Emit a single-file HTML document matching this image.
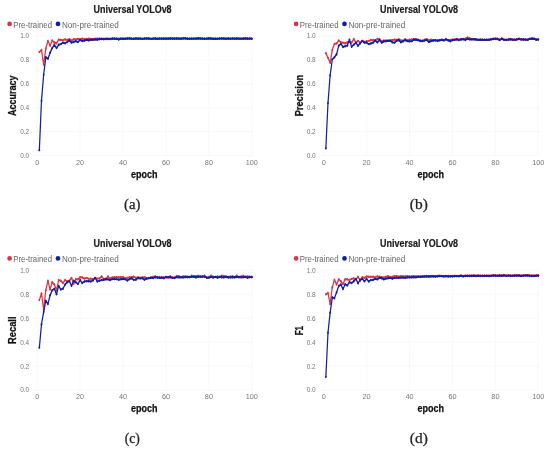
<!DOCTYPE html>
<html><head><meta charset="utf-8"><title>Universal YOLOv8</title>
<style>
html,body{margin:0;padding:0;background:#fff;}
svg{display:block;font-family:"Liberation Sans",sans-serif;}
.t{font-weight:bold;font-size:10.4px;fill:#1a1a1a;stroke:#1a1a1a;stroke-width:0.2;}
.ax{font-weight:bold;font-size:10.3px;fill:#111;stroke:#111;stroke-width:0.25;}
.lg{font-size:8.2px;fill:#666;}
.tk{font-size:6.5px;fill:#777;}
.tx{font-size:7.3px;fill:#777;}
.gh{stroke:#f6f6f6;stroke-width:0.7;}
.cap{font-family:"Liberation Serif",serif;font-size:14.5px;fill:#1c1c1c;stroke:#1c1c1c;stroke-width:0.25;}
.gr{stroke:#e9e9e9;stroke-width:0.7;stroke-dasharray:1 1.5;}
.ln{fill:none;stroke-width:1.75;stroke-linejoin:round;stroke-linecap:round;}
</style></head><body>
<svg width="550" height="451" viewBox="0 0 550 451">
<rect width="550" height="451" fill="#fff"/>

<g transform="translate(0,0)">
<text class="t" x="132.6" y="12.5" text-anchor="middle" textLength="78" lengthAdjust="spacingAndGlyphs">Universal YOLOv8</text>
<g transform="translate(0,0)">
<circle cx="9.6" cy="23.9" r="2.35" fill="#DA3448"/><text class="lg" x="13.3" y="27.6" textLength="38.7" lengthAdjust="spacingAndGlyphs">Pre-trained</text>
<circle cx="58.0" cy="23.9" r="2.35" fill="#0F1FA4"/><text class="lg" x="62.0" y="27.6" textLength="56.7" lengthAdjust="spacingAndGlyphs">Non-pre-trained</text>
<line class="gr" x1="37.2" y1="35" x2="37.2" y2="156"/>
<text class="tx" x="37.2" y="164.5" text-anchor="middle">0</text>
<line class="gr" x1="80.1" y1="35" x2="80.1" y2="156"/>
<text class="tx" x="80.1" y="164.5" text-anchor="middle">20</text>
<line class="gr" x1="123.0" y1="35" x2="123.0" y2="156"/>
<text class="tx" x="123.0" y="164.5" text-anchor="middle">40</text>
<line class="gr" x1="166.0" y1="35" x2="166.0" y2="156"/>
<text class="tx" x="166.0" y="164.5" text-anchor="middle">60</text>
<line class="gr" x1="208.9" y1="35" x2="208.9" y2="156"/>
<text class="tx" x="208.9" y="164.5" text-anchor="middle">80</text>
<line class="gr" x1="251.8" y1="35" x2="251.8" y2="156"/>
<text class="tx" x="251.8" y="164.5" text-anchor="middle">100</text>
<line class="gh" x1="32" y1="155.5" x2="253" y2="155.5"/>
<text class="tk" x="29.2" y="157.8" text-anchor="end">0.0</text>
<line class="gh" x1="32" y1="131.6" x2="253" y2="131.6"/>
<text class="tk" x="29.2" y="134.0" text-anchor="end">0.2</text>
<line class="gh" x1="32" y1="107.7" x2="253" y2="107.7"/>
<text class="tk" x="29.2" y="110.1" text-anchor="end">0.4</text>
<line class="gh" x1="32" y1="83.9" x2="253" y2="83.9"/>
<text class="tk" x="29.2" y="86.2" text-anchor="end">0.6</text>
<line class="gh" x1="32" y1="60.0" x2="253" y2="60.0"/>
<text class="tk" x="29.2" y="62.3" text-anchor="end">0.8</text>
<line class="gh" x1="32" y1="36.1" x2="253" y2="36.1"/>
<text class="tk" x="29.2" y="38.4" text-anchor="end">1.0</text>
</g>
<text class="ax" transform="translate(16.4,95.8) rotate(-90)" text-anchor="middle" textLength="40.4" lengthAdjust="spacingAndGlyphs">Accuracy</text>
<text class="ax" x="144.2" y="177.8" text-anchor="middle" textLength="26.5" lengthAdjust="spacingAndGlyphs">epoch</text>
<text class="cap" x="132.3" y="208.7" text-anchor="middle" textLength="16.4" lengthAdjust="spacingAndGlyphs">(a)</text>
<g transform="translate(0,0)">
<g transform="scale(0.7,1)">
<polyline class="ln" stroke="#DA3448" points="56.21,52.10 59.27,49.95 62.34,64.64 65.41,48.52 68.47,40.88 71.54,45.65 74.60,40.52 77.67,42.43 80.73,43.38 83.80,39.68 86.87,39.92 89.93,40.28 93.00,39.44 96.06,39.92 99.13,39.08 102.19,40.64 105.26,39.20 108.33,39.44 111.39,38.97 114.46,39.20 117.52,38.73 120.59,39.08 123.65,39.05 126.72,38.67 129.79,38.89 132.85,38.98 135.92,38.75 138.98,38.61 142.05,38.66 145.11,38.58 148.18,38.78 151.25,38.59 154.31,38.70 157.38,38.83 160.44,38.56 163.51,38.69 166.57,38.71 169.64,38.69 172.71,38.58 175.77,38.57 178.84,38.61 181.90,38.45 184.97,38.46 188.03,38.66 191.10,38.65 194.17,38.48 197.23,38.61 200.30,38.47 203.36,38.79 206.43,38.44 209.49,38.47 212.56,38.41 215.63,38.76 218.69,38.58 221.76,38.47 224.82,38.72 227.89,38.52 230.95,38.61 234.02,38.47 237.09,38.52 240.15,38.56 243.22,38.50 246.28,38.49 249.35,38.45 252.41,38.51 255.48,38.54 258.55,38.59 261.61,38.37 264.68,38.30 267.74,38.65 270.81,38.60 273.87,38.59 276.94,38.58 280.01,38.53 283.07,38.31 286.14,38.42 289.20,38.52 292.27,38.64 295.33,38.63 298.40,38.45 301.47,38.48 304.53,38.73 307.60,38.68 310.66,38.70 313.73,38.50 316.79,38.37 319.86,38.44 322.93,38.73 325.99,38.42 329.06,38.58 332.12,38.39 335.19,38.61 338.25,38.47 341.32,38.62 344.39,38.75 347.45,38.51 350.52,38.34 353.58,38.55 356.65,38.56 359.71,38.63"/>
<g fill="#DA3448"><circle cx="56.21" cy="52.10" r="1.2"/><circle cx="59.27" cy="49.95" r="1.2"/><circle cx="62.34" cy="64.64" r="1.2"/><circle cx="65.41" cy="48.52" r="1.2"/><circle cx="68.47" cy="40.88" r="1.2"/><circle cx="71.54" cy="45.65" r="1.2"/><circle cx="74.60" cy="40.52" r="1.2"/><circle cx="77.67" cy="42.43" r="1.2"/><circle cx="80.73" cy="43.38" r="1.2"/><circle cx="83.80" cy="39.68" r="1.2"/><circle cx="86.87" cy="39.92" r="1.2"/><circle cx="89.93" cy="40.28" r="1.2"/><circle cx="93.00" cy="39.44" r="1.2"/><circle cx="96.06" cy="39.92" r="1.2"/><circle cx="99.13" cy="39.08" r="1.2"/><circle cx="102.19" cy="40.64" r="1.2"/><circle cx="105.26" cy="39.20" r="1.2"/><circle cx="108.33" cy="39.44" r="1.2"/><circle cx="111.39" cy="38.97" r="1.2"/><circle cx="114.46" cy="39.20" r="1.2"/><circle cx="117.52" cy="38.73" r="1.2"/><circle cx="120.59" cy="39.08" r="1.2"/><circle cx="123.65" cy="39.05" r="1.2"/><circle cx="126.72" cy="38.67" r="1.2"/><circle cx="129.79" cy="38.89" r="1.2"/><circle cx="132.85" cy="38.98" r="1.2"/><circle cx="135.92" cy="38.75" r="1.2"/><circle cx="138.98" cy="38.61" r="1.2"/><circle cx="142.05" cy="38.66" r="1.2"/><circle cx="145.11" cy="38.58" r="1.2"/><circle cx="148.18" cy="38.78" r="1.2"/><circle cx="151.25" cy="38.59" r="1.2"/><circle cx="154.31" cy="38.70" r="1.2"/><circle cx="157.38" cy="38.83" r="1.2"/><circle cx="160.44" cy="38.56" r="1.2"/><circle cx="163.51" cy="38.69" r="1.2"/><circle cx="166.57" cy="38.71" r="1.2"/><circle cx="169.64" cy="38.69" r="1.2"/><circle cx="172.71" cy="38.58" r="1.2"/><circle cx="175.77" cy="38.57" r="1.2"/><circle cx="178.84" cy="38.61" r="1.2"/><circle cx="181.90" cy="38.45" r="1.2"/><circle cx="184.97" cy="38.46" r="1.2"/><circle cx="188.03" cy="38.66" r="1.2"/><circle cx="191.10" cy="38.65" r="1.2"/><circle cx="194.17" cy="38.48" r="1.2"/><circle cx="197.23" cy="38.61" r="1.2"/><circle cx="200.30" cy="38.47" r="1.2"/><circle cx="203.36" cy="38.79" r="1.2"/><circle cx="206.43" cy="38.44" r="1.2"/><circle cx="209.49" cy="38.47" r="1.2"/><circle cx="212.56" cy="38.41" r="1.2"/><circle cx="215.63" cy="38.76" r="1.2"/><circle cx="218.69" cy="38.58" r="1.2"/><circle cx="221.76" cy="38.47" r="1.2"/><circle cx="224.82" cy="38.72" r="1.2"/><circle cx="227.89" cy="38.52" r="1.2"/><circle cx="230.95" cy="38.61" r="1.2"/><circle cx="234.02" cy="38.47" r="1.2"/><circle cx="237.09" cy="38.52" r="1.2"/><circle cx="240.15" cy="38.56" r="1.2"/><circle cx="243.22" cy="38.50" r="1.2"/><circle cx="246.28" cy="38.49" r="1.2"/><circle cx="249.35" cy="38.45" r="1.2"/><circle cx="252.41" cy="38.51" r="1.2"/><circle cx="255.48" cy="38.54" r="1.2"/><circle cx="258.55" cy="38.59" r="1.2"/><circle cx="261.61" cy="38.37" r="1.2"/><circle cx="264.68" cy="38.30" r="1.2"/><circle cx="267.74" cy="38.65" r="1.2"/><circle cx="270.81" cy="38.60" r="1.2"/><circle cx="273.87" cy="38.59" r="1.2"/><circle cx="276.94" cy="38.58" r="1.2"/><circle cx="280.01" cy="38.53" r="1.2"/><circle cx="283.07" cy="38.31" r="1.2"/><circle cx="286.14" cy="38.42" r="1.2"/><circle cx="289.20" cy="38.52" r="1.2"/><circle cx="292.27" cy="38.64" r="1.2"/><circle cx="295.33" cy="38.63" r="1.2"/><circle cx="298.40" cy="38.45" r="1.2"/><circle cx="301.47" cy="38.48" r="1.2"/><circle cx="304.53" cy="38.73" r="1.2"/><circle cx="307.60" cy="38.68" r="1.2"/><circle cx="310.66" cy="38.70" r="1.2"/><circle cx="313.73" cy="38.50" r="1.2"/><circle cx="316.79" cy="38.37" r="1.2"/><circle cx="319.86" cy="38.44" r="1.2"/><circle cx="322.93" cy="38.73" r="1.2"/><circle cx="325.99" cy="38.42" r="1.2"/><circle cx="329.06" cy="38.58" r="1.2"/><circle cx="332.12" cy="38.39" r="1.2"/><circle cx="335.19" cy="38.61" r="1.2"/><circle cx="338.25" cy="38.47" r="1.2"/><circle cx="341.32" cy="38.62" r="1.2"/><circle cx="344.39" cy="38.75" r="1.2"/><circle cx="347.45" cy="38.51" r="1.2"/><circle cx="350.52" cy="38.34" r="1.2"/><circle cx="353.58" cy="38.55" r="1.2"/><circle cx="356.65" cy="38.56" r="1.2"/><circle cx="359.71" cy="38.63" r="1.2"/></g>
<polyline class="ln" stroke="#0F1FA4" points="56.21,150.13 59.27,100.58 62.34,74.79 65.41,57.23 68.47,58.79 71.54,52.82 74.60,48.04 77.67,44.82 80.73,48.04 83.80,44.82 86.87,44.10 89.93,42.67 93.00,43.26 96.06,41.95 99.13,40.52 102.19,42.67 105.26,41.95 108.33,41.11 111.39,42.07 114.46,39.92 117.52,41.11 120.59,40.52 123.65,39.92 126.72,40.40 129.79,39.68 132.85,39.92 135.92,39.44 138.98,39.68 142.05,39.23 145.11,39.09 148.18,39.24 151.25,38.95 154.31,39.00 157.38,38.99 160.44,38.71 163.51,38.70 166.57,38.76 169.64,39.52 172.71,38.62 175.77,38.82 178.84,38.81 181.90,38.51 184.97,38.46 188.03,38.71 191.10,38.77 194.17,38.57 197.23,38.69 200.30,38.62 203.36,38.91 206.43,38.59 209.49,38.59 212.56,38.56 215.63,38.85 218.69,38.59 221.76,38.54 224.82,38.82 227.89,38.65 230.95,38.73 234.02,38.67 237.09,38.71 240.15,38.70 243.22,38.48 246.28,38.66 249.35,38.68 252.41,38.50 255.48,38.58 258.55,38.71 261.61,38.46 264.68,38.45 267.74,38.71 270.81,38.80 273.87,38.66 276.94,38.59 280.01,38.72 283.07,38.45 286.14,38.56 289.20,38.65 292.27,38.77 295.33,38.67 298.40,38.46 301.47,38.65 304.53,38.78 307.60,38.77 310.66,38.77 313.73,38.59 316.79,38.52 319.86,38.53 322.93,38.76 325.99,38.50 329.06,38.75 332.12,38.56 335.19,38.74 338.25,38.55 341.32,38.71 344.39,38.72 347.45,38.70 350.52,38.47 353.58,38.72 356.65,38.58 359.71,38.66"/>
<g fill="#0F1FA4"><circle cx="56.21" cy="150.13" r="1.2"/><circle cx="59.27" cy="100.58" r="1.2"/><circle cx="62.34" cy="74.79" r="1.2"/><circle cx="65.41" cy="57.23" r="1.2"/><circle cx="68.47" cy="58.79" r="1.2"/><circle cx="71.54" cy="52.82" r="1.2"/><circle cx="74.60" cy="48.04" r="1.2"/><circle cx="77.67" cy="44.82" r="1.2"/><circle cx="80.73" cy="48.04" r="1.2"/><circle cx="83.80" cy="44.82" r="1.2"/><circle cx="86.87" cy="44.10" r="1.2"/><circle cx="89.93" cy="42.67" r="1.2"/><circle cx="93.00" cy="43.26" r="1.2"/><circle cx="96.06" cy="41.95" r="1.2"/><circle cx="99.13" cy="40.52" r="1.2"/><circle cx="102.19" cy="42.67" r="1.2"/><circle cx="105.26" cy="41.95" r="1.2"/><circle cx="108.33" cy="41.11" r="1.2"/><circle cx="111.39" cy="42.07" r="1.2"/><circle cx="114.46" cy="39.92" r="1.2"/><circle cx="117.52" cy="41.11" r="1.2"/><circle cx="120.59" cy="40.52" r="1.2"/><circle cx="123.65" cy="39.92" r="1.2"/><circle cx="126.72" cy="40.40" r="1.2"/><circle cx="129.79" cy="39.68" r="1.2"/><circle cx="132.85" cy="39.92" r="1.2"/><circle cx="135.92" cy="39.44" r="1.2"/><circle cx="138.98" cy="39.68" r="1.2"/><circle cx="142.05" cy="39.23" r="1.2"/><circle cx="145.11" cy="39.09" r="1.2"/><circle cx="148.18" cy="39.24" r="1.2"/><circle cx="151.25" cy="38.95" r="1.2"/><circle cx="154.31" cy="39.00" r="1.2"/><circle cx="157.38" cy="38.99" r="1.2"/><circle cx="160.44" cy="38.71" r="1.2"/><circle cx="163.51" cy="38.70" r="1.2"/><circle cx="166.57" cy="38.76" r="1.2"/><circle cx="169.64" cy="39.52" r="1.2"/><circle cx="172.71" cy="38.62" r="1.2"/><circle cx="175.77" cy="38.82" r="1.2"/><circle cx="178.84" cy="38.81" r="1.2"/><circle cx="181.90" cy="38.51" r="1.2"/><circle cx="184.97" cy="38.46" r="1.2"/><circle cx="188.03" cy="38.71" r="1.2"/><circle cx="191.10" cy="38.77" r="1.2"/><circle cx="194.17" cy="38.57" r="1.2"/><circle cx="197.23" cy="38.69" r="1.2"/><circle cx="200.30" cy="38.62" r="1.2"/><circle cx="203.36" cy="38.91" r="1.2"/><circle cx="206.43" cy="38.59" r="1.2"/><circle cx="209.49" cy="38.59" r="1.2"/><circle cx="212.56" cy="38.56" r="1.2"/><circle cx="215.63" cy="38.85" r="1.2"/><circle cx="218.69" cy="38.59" r="1.2"/><circle cx="221.76" cy="38.54" r="1.2"/><circle cx="224.82" cy="38.82" r="1.2"/><circle cx="227.89" cy="38.65" r="1.2"/><circle cx="230.95" cy="38.73" r="1.2"/><circle cx="234.02" cy="38.67" r="1.2"/><circle cx="237.09" cy="38.71" r="1.2"/><circle cx="240.15" cy="38.70" r="1.2"/><circle cx="243.22" cy="38.48" r="1.2"/><circle cx="246.28" cy="38.66" r="1.2"/><circle cx="249.35" cy="38.68" r="1.2"/><circle cx="252.41" cy="38.50" r="1.2"/><circle cx="255.48" cy="38.58" r="1.2"/><circle cx="258.55" cy="38.71" r="1.2"/><circle cx="261.61" cy="38.46" r="1.2"/><circle cx="264.68" cy="38.45" r="1.2"/><circle cx="267.74" cy="38.71" r="1.2"/><circle cx="270.81" cy="38.80" r="1.2"/><circle cx="273.87" cy="38.66" r="1.2"/><circle cx="276.94" cy="38.59" r="1.2"/><circle cx="280.01" cy="38.72" r="1.2"/><circle cx="283.07" cy="38.45" r="1.2"/><circle cx="286.14" cy="38.56" r="1.2"/><circle cx="289.20" cy="38.65" r="1.2"/><circle cx="292.27" cy="38.77" r="1.2"/><circle cx="295.33" cy="38.67" r="1.2"/><circle cx="298.40" cy="38.46" r="1.2"/><circle cx="301.47" cy="38.65" r="1.2"/><circle cx="304.53" cy="38.78" r="1.2"/><circle cx="307.60" cy="38.77" r="1.2"/><circle cx="310.66" cy="38.77" r="1.2"/><circle cx="313.73" cy="38.59" r="1.2"/><circle cx="316.79" cy="38.52" r="1.2"/><circle cx="319.86" cy="38.53" r="1.2"/><circle cx="322.93" cy="38.76" r="1.2"/><circle cx="325.99" cy="38.50" r="1.2"/><circle cx="329.06" cy="38.75" r="1.2"/><circle cx="332.12" cy="38.56" r="1.2"/><circle cx="335.19" cy="38.74" r="1.2"/><circle cx="338.25" cy="38.55" r="1.2"/><circle cx="341.32" cy="38.71" r="1.2"/><circle cx="344.39" cy="38.72" r="1.2"/><circle cx="347.45" cy="38.70" r="1.2"/><circle cx="350.52" cy="38.47" r="1.2"/><circle cx="353.58" cy="38.72" r="1.2"/><circle cx="356.65" cy="38.58" r="1.2"/><circle cx="359.71" cy="38.66" r="1.2"/></g>
</g>
</g>
</g>
<g transform="translate(286.5,0)">
<text class="t" x="132.6" y="12.5" text-anchor="middle" textLength="78" lengthAdjust="spacingAndGlyphs">Universal YOLOv8</text>
<g transform="translate(0,0)">
<circle cx="9.6" cy="23.9" r="2.35" fill="#DA3448"/><text class="lg" x="13.3" y="27.6" textLength="38.7" lengthAdjust="spacingAndGlyphs">Pre-trained</text>
<circle cx="58.0" cy="23.9" r="2.35" fill="#0F1FA4"/><text class="lg" x="62.0" y="27.6" textLength="56.7" lengthAdjust="spacingAndGlyphs">Non-pre-trained</text>
<line class="gr" x1="37.2" y1="35" x2="37.2" y2="156"/>
<text class="tx" x="37.2" y="164.5" text-anchor="middle">0</text>
<line class="gr" x1="80.1" y1="35" x2="80.1" y2="156"/>
<text class="tx" x="80.1" y="164.5" text-anchor="middle">20</text>
<line class="gr" x1="123.0" y1="35" x2="123.0" y2="156"/>
<text class="tx" x="123.0" y="164.5" text-anchor="middle">40</text>
<line class="gr" x1="166.0" y1="35" x2="166.0" y2="156"/>
<text class="tx" x="166.0" y="164.5" text-anchor="middle">60</text>
<line class="gr" x1="208.9" y1="35" x2="208.9" y2="156"/>
<text class="tx" x="208.9" y="164.5" text-anchor="middle">80</text>
<line class="gr" x1="251.8" y1="35" x2="251.8" y2="156"/>
<text class="tx" x="251.8" y="164.5" text-anchor="middle">100</text>
<line class="gh" x1="32" y1="155.5" x2="253" y2="155.5"/>
<text class="tk" x="29.2" y="157.8" text-anchor="end">0.0</text>
<line class="gh" x1="32" y1="131.6" x2="253" y2="131.6"/>
<text class="tk" x="29.2" y="134.0" text-anchor="end">0.2</text>
<line class="gh" x1="32" y1="107.7" x2="253" y2="107.7"/>
<text class="tk" x="29.2" y="110.1" text-anchor="end">0.4</text>
<line class="gh" x1="32" y1="83.9" x2="253" y2="83.9"/>
<text class="tk" x="29.2" y="86.2" text-anchor="end">0.6</text>
<line class="gh" x1="32" y1="60.0" x2="253" y2="60.0"/>
<text class="tk" x="29.2" y="62.3" text-anchor="end">0.8</text>
<line class="gh" x1="32" y1="36.1" x2="253" y2="36.1"/>
<text class="tk" x="29.2" y="38.4" text-anchor="end">1.0</text>
</g>
<text class="ax" transform="translate(16.4,95.6) rotate(-90)" text-anchor="middle" textLength="41.5" lengthAdjust="spacingAndGlyphs">Precision</text>
<text class="ax" x="144.2" y="177.8" text-anchor="middle" textLength="26.5" lengthAdjust="spacingAndGlyphs">epoch</text>
<text class="cap" x="132.3" y="208.7" text-anchor="middle" textLength="18" lengthAdjust="spacingAndGlyphs">(b)</text>
<g transform="translate(0,0)">
<g transform="scale(0.7,1)">
<polyline class="ln" stroke="#DA3448" points="56.21,53.05 59.27,57.83 62.34,62.73 65.41,49.95 68.47,43.86 71.54,43.38 74.60,40.52 77.67,42.31 80.73,42.67 83.80,43.38 86.87,42.31 89.93,41.95 93.00,42.67 96.06,38.97 99.13,42.67 102.19,40.88 105.26,42.67 108.33,40.88 111.39,41.95 114.46,41.23 117.52,40.88 120.59,40.04 123.65,40.04 126.72,40.52 129.79,38.97 132.85,38.97 135.92,41.11 138.98,40.52 142.05,40.52 145.11,40.52 148.18,40.21 151.25,40.15 154.31,39.58 157.38,39.87 160.44,39.31 163.51,40.44 166.57,40.65 169.64,39.23 172.71,40.57 175.77,39.66 178.84,39.55 181.90,39.23 184.97,39.09 188.03,39.64 191.10,40.44 194.17,40.67 197.23,39.77 200.30,39.14 203.36,40.35 206.43,39.73 209.49,40.23 212.56,40.17 215.63,40.26 218.69,39.85 221.76,39.69 224.82,40.26 227.89,39.00 230.95,40.22 234.02,39.85 237.09,39.69 240.15,39.54 243.22,38.90 246.28,39.72 249.35,39.01 252.41,38.84 255.48,38.76 258.55,37.48 261.61,38.45 264.68,39.15 267.74,39.29 270.81,39.20 273.87,39.88 276.94,39.70 280.01,39.79 283.07,39.66 286.14,39.77 289.20,39.69 292.27,39.08 295.33,38.78 298.40,38.58 301.47,38.62 304.53,39.55 307.60,38.57 310.66,39.42 313.73,39.74 316.79,39.67 319.86,38.91 322.93,39.63 325.99,39.42 329.06,39.32 332.12,38.64 335.19,39.49 338.25,39.17 341.32,39.35 344.39,39.89 347.45,38.87 350.52,38.43 353.58,38.65 356.65,39.55 359.71,39.14"/>
<g fill="#DA3448"><circle cx="56.21" cy="53.05" r="1.2"/><circle cx="59.27" cy="57.83" r="1.2"/><circle cx="62.34" cy="62.73" r="1.2"/><circle cx="65.41" cy="49.95" r="1.2"/><circle cx="68.47" cy="43.86" r="1.2"/><circle cx="71.54" cy="43.38" r="1.2"/><circle cx="74.60" cy="40.52" r="1.2"/><circle cx="77.67" cy="42.31" r="1.2"/><circle cx="80.73" cy="42.67" r="1.2"/><circle cx="83.80" cy="43.38" r="1.2"/><circle cx="86.87" cy="42.31" r="1.2"/><circle cx="89.93" cy="41.95" r="1.2"/><circle cx="93.00" cy="42.67" r="1.2"/><circle cx="96.06" cy="38.97" r="1.2"/><circle cx="99.13" cy="42.67" r="1.2"/><circle cx="102.19" cy="40.88" r="1.2"/><circle cx="105.26" cy="42.67" r="1.2"/><circle cx="108.33" cy="40.88" r="1.2"/><circle cx="111.39" cy="41.95" r="1.2"/><circle cx="114.46" cy="41.23" r="1.2"/><circle cx="117.52" cy="40.88" r="1.2"/><circle cx="120.59" cy="40.04" r="1.2"/><circle cx="123.65" cy="40.04" r="1.2"/><circle cx="126.72" cy="40.52" r="1.2"/><circle cx="129.79" cy="38.97" r="1.2"/><circle cx="132.85" cy="38.97" r="1.2"/><circle cx="135.92" cy="41.11" r="1.2"/><circle cx="138.98" cy="40.52" r="1.2"/><circle cx="142.05" cy="40.52" r="1.2"/><circle cx="145.11" cy="40.52" r="1.2"/><circle cx="148.18" cy="40.21" r="1.2"/><circle cx="151.25" cy="40.15" r="1.2"/><circle cx="154.31" cy="39.58" r="1.2"/><circle cx="157.38" cy="39.87" r="1.2"/><circle cx="160.44" cy="39.31" r="1.2"/><circle cx="163.51" cy="40.44" r="1.2"/><circle cx="166.57" cy="40.65" r="1.2"/><circle cx="169.64" cy="39.23" r="1.2"/><circle cx="172.71" cy="40.57" r="1.2"/><circle cx="175.77" cy="39.66" r="1.2"/><circle cx="178.84" cy="39.55" r="1.2"/><circle cx="181.90" cy="39.23" r="1.2"/><circle cx="184.97" cy="39.09" r="1.2"/><circle cx="188.03" cy="39.64" r="1.2"/><circle cx="191.10" cy="40.44" r="1.2"/><circle cx="194.17" cy="40.67" r="1.2"/><circle cx="197.23" cy="39.77" r="1.2"/><circle cx="200.30" cy="39.14" r="1.2"/><circle cx="203.36" cy="40.35" r="1.2"/><circle cx="206.43" cy="39.73" r="1.2"/><circle cx="209.49" cy="40.23" r="1.2"/><circle cx="212.56" cy="40.17" r="1.2"/><circle cx="215.63" cy="40.26" r="1.2"/><circle cx="218.69" cy="39.85" r="1.2"/><circle cx="221.76" cy="39.69" r="1.2"/><circle cx="224.82" cy="40.26" r="1.2"/><circle cx="227.89" cy="39.00" r="1.2"/><circle cx="230.95" cy="40.22" r="1.2"/><circle cx="234.02" cy="39.85" r="1.2"/><circle cx="237.09" cy="39.69" r="1.2"/><circle cx="240.15" cy="39.54" r="1.2"/><circle cx="243.22" cy="38.90" r="1.2"/><circle cx="246.28" cy="39.72" r="1.2"/><circle cx="249.35" cy="39.01" r="1.2"/><circle cx="252.41" cy="38.84" r="1.2"/><circle cx="255.48" cy="38.76" r="1.2"/><circle cx="258.55" cy="37.48" r="1.2"/><circle cx="261.61" cy="38.45" r="1.2"/><circle cx="264.68" cy="39.15" r="1.2"/><circle cx="267.74" cy="39.29" r="1.2"/><circle cx="270.81" cy="39.20" r="1.2"/><circle cx="273.87" cy="39.88" r="1.2"/><circle cx="276.94" cy="39.70" r="1.2"/><circle cx="280.01" cy="39.79" r="1.2"/><circle cx="283.07" cy="39.66" r="1.2"/><circle cx="286.14" cy="39.77" r="1.2"/><circle cx="289.20" cy="39.69" r="1.2"/><circle cx="292.27" cy="39.08" r="1.2"/><circle cx="295.33" cy="38.78" r="1.2"/><circle cx="298.40" cy="38.58" r="1.2"/><circle cx="301.47" cy="38.62" r="1.2"/><circle cx="304.53" cy="39.55" r="1.2"/><circle cx="307.60" cy="38.57" r="1.2"/><circle cx="310.66" cy="39.42" r="1.2"/><circle cx="313.73" cy="39.74" r="1.2"/><circle cx="316.79" cy="39.67" r="1.2"/><circle cx="319.86" cy="38.91" r="1.2"/><circle cx="322.93" cy="39.63" r="1.2"/><circle cx="325.99" cy="39.42" r="1.2"/><circle cx="329.06" cy="39.32" r="1.2"/><circle cx="332.12" cy="38.64" r="1.2"/><circle cx="335.19" cy="39.49" r="1.2"/><circle cx="338.25" cy="39.17" r="1.2"/><circle cx="341.32" cy="39.35" r="1.2"/><circle cx="344.39" cy="39.89" r="1.2"/><circle cx="347.45" cy="38.87" r="1.2"/><circle cx="350.52" cy="38.43" r="1.2"/><circle cx="353.58" cy="38.65" r="1.2"/><circle cx="356.65" cy="39.55" r="1.2"/><circle cx="359.71" cy="39.14" r="1.2"/></g>
<polyline class="ln" stroke="#0F1FA4" points="56.21,148.34 59.27,102.96 62.34,75.38 65.41,59.38 68.47,57.23 71.54,54.25 74.60,45.77 77.67,43.86 80.73,46.97 83.80,46.25 86.87,45.53 89.93,39.68 93.00,46.73 96.06,44.82 99.13,42.67 102.19,45.77 105.26,43.38 108.33,40.88 111.39,42.67 114.46,42.67 117.52,44.10 120.59,43.38 123.65,42.67 126.72,40.52 129.79,42.31 132.85,40.04 135.92,42.67 138.98,41.47 142.05,41.23 145.11,40.88 148.18,40.88 151.25,42.31 154.31,42.67 157.38,40.70 160.44,40.19 163.51,42.34 166.57,41.19 169.64,40.19 172.71,41.08 175.77,41.33 178.84,41.16 181.90,39.63 184.97,39.91 188.03,40.13 191.10,41.12 194.17,41.15 197.23,40.50 200.30,39.92 203.36,42.04 206.43,41.08 209.49,40.59 212.56,40.24 215.63,40.93 218.69,40.38 221.76,39.91 224.82,40.29 227.89,39.36 230.95,40.36 234.02,41.20 237.09,40.13 240.15,39.86 243.22,39.39 246.28,40.10 249.35,39.43 252.41,39.26 255.48,39.95 258.55,38.90 261.61,39.40 264.68,39.27 267.74,39.14 270.81,39.56 273.87,39.82 276.94,39.74 280.01,39.82 283.07,39.83 286.14,39.78 289.20,39.78 292.27,39.40 295.33,39.03 298.40,38.75 301.47,39.05 304.53,40.09 307.60,38.80 310.66,39.88 313.73,39.92 316.79,39.64 319.86,39.28 322.93,39.73 325.99,39.88 329.06,39.51 332.12,39.00 335.19,39.40 338.25,39.55 341.32,39.58 344.39,39.79 347.45,38.87 350.52,38.69 353.58,38.81 356.65,39.66 359.71,39.61"/>
<g fill="#0F1FA4"><circle cx="56.21" cy="148.34" r="1.2"/><circle cx="59.27" cy="102.96" r="1.2"/><circle cx="62.34" cy="75.38" r="1.2"/><circle cx="65.41" cy="59.38" r="1.2"/><circle cx="68.47" cy="57.23" r="1.2"/><circle cx="71.54" cy="54.25" r="1.2"/><circle cx="74.60" cy="45.77" r="1.2"/><circle cx="77.67" cy="43.86" r="1.2"/><circle cx="80.73" cy="46.97" r="1.2"/><circle cx="83.80" cy="46.25" r="1.2"/><circle cx="86.87" cy="45.53" r="1.2"/><circle cx="89.93" cy="39.68" r="1.2"/><circle cx="93.00" cy="46.73" r="1.2"/><circle cx="96.06" cy="44.82" r="1.2"/><circle cx="99.13" cy="42.67" r="1.2"/><circle cx="102.19" cy="45.77" r="1.2"/><circle cx="105.26" cy="43.38" r="1.2"/><circle cx="108.33" cy="40.88" r="1.2"/><circle cx="111.39" cy="42.67" r="1.2"/><circle cx="114.46" cy="42.67" r="1.2"/><circle cx="117.52" cy="44.10" r="1.2"/><circle cx="120.59" cy="43.38" r="1.2"/><circle cx="123.65" cy="42.67" r="1.2"/><circle cx="126.72" cy="40.52" r="1.2"/><circle cx="129.79" cy="42.31" r="1.2"/><circle cx="132.85" cy="40.04" r="1.2"/><circle cx="135.92" cy="42.67" r="1.2"/><circle cx="138.98" cy="41.47" r="1.2"/><circle cx="142.05" cy="41.23" r="1.2"/><circle cx="145.11" cy="40.88" r="1.2"/><circle cx="148.18" cy="40.88" r="1.2"/><circle cx="151.25" cy="42.31" r="1.2"/><circle cx="154.31" cy="42.67" r="1.2"/><circle cx="157.38" cy="40.70" r="1.2"/><circle cx="160.44" cy="40.19" r="1.2"/><circle cx="163.51" cy="42.34" r="1.2"/><circle cx="166.57" cy="41.19" r="1.2"/><circle cx="169.64" cy="40.19" r="1.2"/><circle cx="172.71" cy="41.08" r="1.2"/><circle cx="175.77" cy="41.33" r="1.2"/><circle cx="178.84" cy="41.16" r="1.2"/><circle cx="181.90" cy="39.63" r="1.2"/><circle cx="184.97" cy="39.91" r="1.2"/><circle cx="188.03" cy="40.13" r="1.2"/><circle cx="191.10" cy="41.12" r="1.2"/><circle cx="194.17" cy="41.15" r="1.2"/><circle cx="197.23" cy="40.50" r="1.2"/><circle cx="200.30" cy="39.92" r="1.2"/><circle cx="203.36" cy="42.04" r="1.2"/><circle cx="206.43" cy="41.08" r="1.2"/><circle cx="209.49" cy="40.59" r="1.2"/><circle cx="212.56" cy="40.24" r="1.2"/><circle cx="215.63" cy="40.93" r="1.2"/><circle cx="218.69" cy="40.38" r="1.2"/><circle cx="221.76" cy="39.91" r="1.2"/><circle cx="224.82" cy="40.29" r="1.2"/><circle cx="227.89" cy="39.36" r="1.2"/><circle cx="230.95" cy="40.36" r="1.2"/><circle cx="234.02" cy="41.20" r="1.2"/><circle cx="237.09" cy="40.13" r="1.2"/><circle cx="240.15" cy="39.86" r="1.2"/><circle cx="243.22" cy="39.39" r="1.2"/><circle cx="246.28" cy="40.10" r="1.2"/><circle cx="249.35" cy="39.43" r="1.2"/><circle cx="252.41" cy="39.26" r="1.2"/><circle cx="255.48" cy="39.95" r="1.2"/><circle cx="258.55" cy="38.90" r="1.2"/><circle cx="261.61" cy="39.40" r="1.2"/><circle cx="264.68" cy="39.27" r="1.2"/><circle cx="267.74" cy="39.14" r="1.2"/><circle cx="270.81" cy="39.56" r="1.2"/><circle cx="273.87" cy="39.82" r="1.2"/><circle cx="276.94" cy="39.74" r="1.2"/><circle cx="280.01" cy="39.82" r="1.2"/><circle cx="283.07" cy="39.83" r="1.2"/><circle cx="286.14" cy="39.78" r="1.2"/><circle cx="289.20" cy="39.78" r="1.2"/><circle cx="292.27" cy="39.40" r="1.2"/><circle cx="295.33" cy="39.03" r="1.2"/><circle cx="298.40" cy="38.75" r="1.2"/><circle cx="301.47" cy="39.05" r="1.2"/><circle cx="304.53" cy="40.09" r="1.2"/><circle cx="307.60" cy="38.80" r="1.2"/><circle cx="310.66" cy="39.88" r="1.2"/><circle cx="313.73" cy="39.92" r="1.2"/><circle cx="316.79" cy="39.64" r="1.2"/><circle cx="319.86" cy="39.28" r="1.2"/><circle cx="322.93" cy="39.73" r="1.2"/><circle cx="325.99" cy="39.88" r="1.2"/><circle cx="329.06" cy="39.51" r="1.2"/><circle cx="332.12" cy="39.00" r="1.2"/><circle cx="335.19" cy="39.40" r="1.2"/><circle cx="338.25" cy="39.55" r="1.2"/><circle cx="341.32" cy="39.58" r="1.2"/><circle cx="344.39" cy="39.79" r="1.2"/><circle cx="347.45" cy="38.87" r="1.2"/><circle cx="350.52" cy="38.69" r="1.2"/><circle cx="353.58" cy="38.81" r="1.2"/><circle cx="356.65" cy="39.66" r="1.2"/><circle cx="359.71" cy="39.61" r="1.2"/></g>
</g>
</g>
</g>
<g transform="translate(0,234)">
<text class="t" x="132.6" y="13.0" text-anchor="middle" textLength="78" lengthAdjust="spacingAndGlyphs">Universal YOLOv8</text>
<g transform="translate(0,0.5)">
<circle cx="9.6" cy="23.9" r="2.35" fill="#DA3448"/><text class="lg" x="13.3" y="27.6" textLength="38.7" lengthAdjust="spacingAndGlyphs">Pre-trained</text>
<circle cx="58.0" cy="23.9" r="2.35" fill="#0F1FA4"/><text class="lg" x="62.0" y="27.6" textLength="56.7" lengthAdjust="spacingAndGlyphs">Non-pre-trained</text>
<line class="gr" x1="37.2" y1="35" x2="37.2" y2="156"/>
<text class="tx" x="37.2" y="164.0" text-anchor="middle">0</text>
<line class="gr" x1="80.1" y1="35" x2="80.1" y2="156"/>
<text class="tx" x="80.1" y="164.0" text-anchor="middle">20</text>
<line class="gr" x1="123.0" y1="35" x2="123.0" y2="156"/>
<text class="tx" x="123.0" y="164.0" text-anchor="middle">40</text>
<line class="gr" x1="166.0" y1="35" x2="166.0" y2="156"/>
<text class="tx" x="166.0" y="164.0" text-anchor="middle">60</text>
<line class="gr" x1="208.9" y1="35" x2="208.9" y2="156"/>
<text class="tx" x="208.9" y="164.0" text-anchor="middle">80</text>
<line class="gr" x1="251.8" y1="35" x2="251.8" y2="156"/>
<text class="tx" x="251.8" y="164.0" text-anchor="middle">100</text>
<line class="gh" x1="32" y1="155.5" x2="253" y2="155.5"/>
<text class="tk" x="29.2" y="157.8" text-anchor="end">0.0</text>
<line class="gh" x1="32" y1="131.6" x2="253" y2="131.6"/>
<text class="tk" x="29.2" y="134.0" text-anchor="end">0.2</text>
<line class="gh" x1="32" y1="107.7" x2="253" y2="107.7"/>
<text class="tk" x="29.2" y="110.1" text-anchor="end">0.4</text>
<line class="gh" x1="32" y1="83.9" x2="253" y2="83.9"/>
<text class="tk" x="29.2" y="86.2" text-anchor="end">0.6</text>
<line class="gh" x1="32" y1="60.0" x2="253" y2="60.0"/>
<text class="tk" x="29.2" y="62.3" text-anchor="end">0.8</text>
<line class="gh" x1="32" y1="36.1" x2="253" y2="36.1"/>
<text class="tk" x="29.2" y="38.4" text-anchor="end">1.0</text>
</g>
<text class="ax" transform="translate(16.4,96.2) rotate(-90)" text-anchor="middle" textLength="27.5" lengthAdjust="spacingAndGlyphs">Recall</text>
<text class="ax" x="144.2" y="177.8" text-anchor="middle" textLength="26.5" lengthAdjust="spacingAndGlyphs">epoch</text>
<text class="cap" x="132.3" y="208.7" text-anchor="middle" textLength="15.2" lengthAdjust="spacingAndGlyphs">(c)</text>
<g transform="translate(0,0.5)">
<g transform="scale(0.7,1)">
<polyline class="ln" stroke="#DA3448" points="56.21,65.59 59.27,58.91 62.34,75.38 65.41,55.68 68.47,46.25 71.54,54.97 74.60,47.68 77.67,49.95 80.73,55.68 83.80,45.53 86.87,46.25 89.93,48.52 93.00,45.53 96.06,46.73 99.13,46.25 102.19,43.38 105.26,49.23 108.33,44.82 111.39,44.82 114.46,42.67 117.52,42.91 120.59,44.10 123.65,43.38 126.72,44.34 129.79,44.10 132.85,44.82 135.92,43.38 138.98,44.10 142.05,43.86 145.11,41.95 148.18,44.34 151.25,44.10 154.31,41.95 157.38,44.10 160.44,42.90 163.51,42.78 166.57,42.63 169.64,42.87 172.71,42.52 175.77,42.59 178.84,44.06 181.90,43.32 184.97,42.76 188.03,42.63 191.10,42.14 194.17,43.26 197.23,42.86 200.30,43.28 203.36,42.93 206.43,42.65 209.49,43.89 212.56,43.53 215.63,43.07 218.69,42.27 221.76,41.98 224.82,43.03 227.89,42.55 230.95,43.06 234.02,42.75 237.09,42.76 240.15,43.09 243.22,41.75 246.28,42.97 249.35,43.17 252.41,41.53 255.48,41.69 258.55,42.75 261.61,41.84 264.68,41.95 267.74,42.10 270.81,42.48 273.87,41.26 276.94,41.74 280.01,41.70 283.07,41.25 286.14,42.02 289.20,42.01 292.27,41.23 295.33,42.87 298.40,42.99 301.47,41.20 304.53,42.20 307.60,42.52 310.66,42.01 313.73,42.33 316.79,41.11 319.86,41.50 322.93,41.98 325.99,42.49 329.06,42.11 332.12,41.79 335.19,42.60 338.25,41.10 341.32,42.81 344.39,42.05 347.45,41.28 350.52,42.61 353.58,41.89 356.65,42.14 359.71,42.28"/>
<g fill="#DA3448"><circle cx="56.21" cy="65.59" r="1.2"/><circle cx="59.27" cy="58.91" r="1.2"/><circle cx="62.34" cy="75.38" r="1.2"/><circle cx="65.41" cy="55.68" r="1.2"/><circle cx="68.47" cy="46.25" r="1.2"/><circle cx="71.54" cy="54.97" r="1.2"/><circle cx="74.60" cy="47.68" r="1.2"/><circle cx="77.67" cy="49.95" r="1.2"/><circle cx="80.73" cy="55.68" r="1.2"/><circle cx="83.80" cy="45.53" r="1.2"/><circle cx="86.87" cy="46.25" r="1.2"/><circle cx="89.93" cy="48.52" r="1.2"/><circle cx="93.00" cy="45.53" r="1.2"/><circle cx="96.06" cy="46.73" r="1.2"/><circle cx="99.13" cy="46.25" r="1.2"/><circle cx="102.19" cy="43.38" r="1.2"/><circle cx="105.26" cy="49.23" r="1.2"/><circle cx="108.33" cy="44.82" r="1.2"/><circle cx="111.39" cy="44.82" r="1.2"/><circle cx="114.46" cy="42.67" r="1.2"/><circle cx="117.52" cy="42.91" r="1.2"/><circle cx="120.59" cy="44.10" r="1.2"/><circle cx="123.65" cy="43.38" r="1.2"/><circle cx="126.72" cy="44.34" r="1.2"/><circle cx="129.79" cy="44.10" r="1.2"/><circle cx="132.85" cy="44.82" r="1.2"/><circle cx="135.92" cy="43.38" r="1.2"/><circle cx="138.98" cy="44.10" r="1.2"/><circle cx="142.05" cy="43.86" r="1.2"/><circle cx="145.11" cy="41.95" r="1.2"/><circle cx="148.18" cy="44.34" r="1.2"/><circle cx="151.25" cy="44.10" r="1.2"/><circle cx="154.31" cy="41.95" r="1.2"/><circle cx="157.38" cy="44.10" r="1.2"/><circle cx="160.44" cy="42.90" r="1.2"/><circle cx="163.51" cy="42.78" r="1.2"/><circle cx="166.57" cy="42.63" r="1.2"/><circle cx="169.64" cy="42.87" r="1.2"/><circle cx="172.71" cy="42.52" r="1.2"/><circle cx="175.77" cy="42.59" r="1.2"/><circle cx="178.84" cy="44.06" r="1.2"/><circle cx="181.90" cy="43.32" r="1.2"/><circle cx="184.97" cy="42.76" r="1.2"/><circle cx="188.03" cy="42.63" r="1.2"/><circle cx="191.10" cy="42.14" r="1.2"/><circle cx="194.17" cy="43.26" r="1.2"/><circle cx="197.23" cy="42.86" r="1.2"/><circle cx="200.30" cy="43.28" r="1.2"/><circle cx="203.36" cy="42.93" r="1.2"/><circle cx="206.43" cy="42.65" r="1.2"/><circle cx="209.49" cy="43.89" r="1.2"/><circle cx="212.56" cy="43.53" r="1.2"/><circle cx="215.63" cy="43.07" r="1.2"/><circle cx="218.69" cy="42.27" r="1.2"/><circle cx="221.76" cy="41.98" r="1.2"/><circle cx="224.82" cy="43.03" r="1.2"/><circle cx="227.89" cy="42.55" r="1.2"/><circle cx="230.95" cy="43.06" r="1.2"/><circle cx="234.02" cy="42.75" r="1.2"/><circle cx="237.09" cy="42.76" r="1.2"/><circle cx="240.15" cy="43.09" r="1.2"/><circle cx="243.22" cy="41.75" r="1.2"/><circle cx="246.28" cy="42.97" r="1.2"/><circle cx="249.35" cy="43.17" r="1.2"/><circle cx="252.41" cy="41.53" r="1.2"/><circle cx="255.48" cy="41.69" r="1.2"/><circle cx="258.55" cy="42.75" r="1.2"/><circle cx="261.61" cy="41.84" r="1.2"/><circle cx="264.68" cy="41.95" r="1.2"/><circle cx="267.74" cy="42.10" r="1.2"/><circle cx="270.81" cy="42.48" r="1.2"/><circle cx="273.87" cy="41.26" r="1.2"/><circle cx="276.94" cy="41.74" r="1.2"/><circle cx="280.01" cy="41.70" r="1.2"/><circle cx="283.07" cy="41.25" r="1.2"/><circle cx="286.14" cy="42.02" r="1.2"/><circle cx="289.20" cy="42.01" r="1.2"/><circle cx="292.27" cy="41.23" r="1.2"/><circle cx="295.33" cy="42.87" r="1.2"/><circle cx="298.40" cy="42.99" r="1.2"/><circle cx="301.47" cy="41.20" r="1.2"/><circle cx="304.53" cy="42.20" r="1.2"/><circle cx="307.60" cy="42.52" r="1.2"/><circle cx="310.66" cy="42.01" r="1.2"/><circle cx="313.73" cy="42.33" r="1.2"/><circle cx="316.79" cy="41.11" r="1.2"/><circle cx="319.86" cy="41.50" r="1.2"/><circle cx="322.93" cy="41.98" r="1.2"/><circle cx="325.99" cy="42.49" r="1.2"/><circle cx="329.06" cy="42.11" r="1.2"/><circle cx="332.12" cy="41.79" r="1.2"/><circle cx="335.19" cy="42.60" r="1.2"/><circle cx="338.25" cy="41.10" r="1.2"/><circle cx="341.32" cy="42.81" r="1.2"/><circle cx="344.39" cy="42.05" r="1.2"/><circle cx="347.45" cy="41.28" r="1.2"/><circle cx="350.52" cy="42.61" r="1.2"/><circle cx="353.58" cy="41.89" r="1.2"/><circle cx="356.65" cy="42.14" r="1.2"/><circle cx="359.71" cy="42.28" r="1.2"/></g>
<polyline class="ln" stroke="#0F1FA4" points="56.21,113.11 59.27,89.83 62.34,77.53 65.41,66.19 68.47,69.53 71.54,60.82 74.60,55.68 77.67,54.25 80.73,59.74 83.80,51.38 86.87,54.97 89.93,54.25 93.00,49.95 96.06,47.68 99.13,46.73 102.19,51.38 105.26,46.25 108.33,47.68 111.39,49.59 114.46,45.53 117.52,48.52 120.59,46.97 123.65,46.73 126.72,46.73 129.79,46.97 132.85,45.89 135.92,43.38 138.98,46.97 142.05,46.25 145.11,45.53 148.18,45.29 151.25,44.82 154.31,44.82 157.38,45.53 160.44,44.59 163.51,44.55 166.57,44.65 169.64,45.19 172.71,44.68 175.77,44.47 178.84,44.73 181.90,46.01 184.97,44.67 188.03,43.77 191.10,45.36 194.17,45.14 197.23,43.56 200.30,43.82 203.36,43.75 206.43,45.24 209.49,44.05 212.56,43.66 215.63,43.10 218.69,43.60 221.76,42.70 224.82,42.96 227.89,43.27 230.95,43.19 234.02,43.73 237.09,42.52 240.15,42.67 243.22,42.82 246.28,43.34 249.35,43.46 252.41,42.60 255.48,42.84 258.55,42.58 261.61,42.89 264.68,42.66 267.74,42.68 270.81,42.63 273.87,42.08 276.94,42.26 280.01,42.93 283.07,42.31 286.14,42.19 289.20,42.19 292.27,42.20 295.33,43.29 298.40,43.06 301.47,42.40 304.53,43.08 307.60,42.34 310.66,43.16 313.73,42.43 316.79,42.85 319.86,42.82 322.93,42.43 325.99,42.95 329.06,42.90 332.12,42.69 335.19,42.82 338.25,42.58 341.32,42.46 344.39,42.87 347.45,42.72 350.52,42.32 353.58,43.25 356.65,42.67 359.71,42.70"/>
<g fill="#0F1FA4"><circle cx="56.21" cy="113.11" r="1.2"/><circle cx="59.27" cy="89.83" r="1.2"/><circle cx="62.34" cy="77.53" r="1.2"/><circle cx="65.41" cy="66.19" r="1.2"/><circle cx="68.47" cy="69.53" r="1.2"/><circle cx="71.54" cy="60.82" r="1.2"/><circle cx="74.60" cy="55.68" r="1.2"/><circle cx="77.67" cy="54.25" r="1.2"/><circle cx="80.73" cy="59.74" r="1.2"/><circle cx="83.80" cy="51.38" r="1.2"/><circle cx="86.87" cy="54.97" r="1.2"/><circle cx="89.93" cy="54.25" r="1.2"/><circle cx="93.00" cy="49.95" r="1.2"/><circle cx="96.06" cy="47.68" r="1.2"/><circle cx="99.13" cy="46.73" r="1.2"/><circle cx="102.19" cy="51.38" r="1.2"/><circle cx="105.26" cy="46.25" r="1.2"/><circle cx="108.33" cy="47.68" r="1.2"/><circle cx="111.39" cy="49.59" r="1.2"/><circle cx="114.46" cy="45.53" r="1.2"/><circle cx="117.52" cy="48.52" r="1.2"/><circle cx="120.59" cy="46.97" r="1.2"/><circle cx="123.65" cy="46.73" r="1.2"/><circle cx="126.72" cy="46.73" r="1.2"/><circle cx="129.79" cy="46.97" r="1.2"/><circle cx="132.85" cy="45.89" r="1.2"/><circle cx="135.92" cy="43.38" r="1.2"/><circle cx="138.98" cy="46.97" r="1.2"/><circle cx="142.05" cy="46.25" r="1.2"/><circle cx="145.11" cy="45.53" r="1.2"/><circle cx="148.18" cy="45.29" r="1.2"/><circle cx="151.25" cy="44.82" r="1.2"/><circle cx="154.31" cy="44.82" r="1.2"/><circle cx="157.38" cy="45.53" r="1.2"/><circle cx="160.44" cy="44.59" r="1.2"/><circle cx="163.51" cy="44.55" r="1.2"/><circle cx="166.57" cy="44.65" r="1.2"/><circle cx="169.64" cy="45.19" r="1.2"/><circle cx="172.71" cy="44.68" r="1.2"/><circle cx="175.77" cy="44.47" r="1.2"/><circle cx="178.84" cy="44.73" r="1.2"/><circle cx="181.90" cy="46.01" r="1.2"/><circle cx="184.97" cy="44.67" r="1.2"/><circle cx="188.03" cy="43.77" r="1.2"/><circle cx="191.10" cy="45.36" r="1.2"/><circle cx="194.17" cy="45.14" r="1.2"/><circle cx="197.23" cy="43.56" r="1.2"/><circle cx="200.30" cy="43.82" r="1.2"/><circle cx="203.36" cy="43.75" r="1.2"/><circle cx="206.43" cy="45.24" r="1.2"/><circle cx="209.49" cy="44.05" r="1.2"/><circle cx="212.56" cy="43.66" r="1.2"/><circle cx="215.63" cy="43.10" r="1.2"/><circle cx="218.69" cy="43.60" r="1.2"/><circle cx="221.76" cy="42.70" r="1.2"/><circle cx="224.82" cy="42.96" r="1.2"/><circle cx="227.89" cy="43.27" r="1.2"/><circle cx="230.95" cy="43.19" r="1.2"/><circle cx="234.02" cy="43.73" r="1.2"/><circle cx="237.09" cy="42.52" r="1.2"/><circle cx="240.15" cy="42.67" r="1.2"/><circle cx="243.22" cy="42.82" r="1.2"/><circle cx="246.28" cy="43.34" r="1.2"/><circle cx="249.35" cy="43.46" r="1.2"/><circle cx="252.41" cy="42.60" r="1.2"/><circle cx="255.48" cy="42.84" r="1.2"/><circle cx="258.55" cy="42.58" r="1.2"/><circle cx="261.61" cy="42.89" r="1.2"/><circle cx="264.68" cy="42.66" r="1.2"/><circle cx="267.74" cy="42.68" r="1.2"/><circle cx="270.81" cy="42.63" r="1.2"/><circle cx="273.87" cy="42.08" r="1.2"/><circle cx="276.94" cy="42.26" r="1.2"/><circle cx="280.01" cy="42.93" r="1.2"/><circle cx="283.07" cy="42.31" r="1.2"/><circle cx="286.14" cy="42.19" r="1.2"/><circle cx="289.20" cy="42.19" r="1.2"/><circle cx="292.27" cy="42.20" r="1.2"/><circle cx="295.33" cy="43.29" r="1.2"/><circle cx="298.40" cy="43.06" r="1.2"/><circle cx="301.47" cy="42.40" r="1.2"/><circle cx="304.53" cy="43.08" r="1.2"/><circle cx="307.60" cy="42.34" r="1.2"/><circle cx="310.66" cy="43.16" r="1.2"/><circle cx="313.73" cy="42.43" r="1.2"/><circle cx="316.79" cy="42.85" r="1.2"/><circle cx="319.86" cy="42.82" r="1.2"/><circle cx="322.93" cy="42.43" r="1.2"/><circle cx="325.99" cy="42.95" r="1.2"/><circle cx="329.06" cy="42.90" r="1.2"/><circle cx="332.12" cy="42.69" r="1.2"/><circle cx="335.19" cy="42.82" r="1.2"/><circle cx="338.25" cy="42.58" r="1.2"/><circle cx="341.32" cy="42.46" r="1.2"/><circle cx="344.39" cy="42.87" r="1.2"/><circle cx="347.45" cy="42.72" r="1.2"/><circle cx="350.52" cy="42.32" r="1.2"/><circle cx="353.58" cy="43.25" r="1.2"/><circle cx="356.65" cy="42.67" r="1.2"/><circle cx="359.71" cy="42.70" r="1.2"/></g>
</g>
</g>
</g>
<g transform="translate(286.5,234)">
<text class="t" x="132.6" y="13.0" text-anchor="middle" textLength="78" lengthAdjust="spacingAndGlyphs">Universal YOLOv8</text>
<g transform="translate(0,0.5)">
<circle cx="9.6" cy="23.9" r="2.35" fill="#DA3448"/><text class="lg" x="13.3" y="27.6" textLength="38.7" lengthAdjust="spacingAndGlyphs">Pre-trained</text>
<circle cx="58.0" cy="23.9" r="2.35" fill="#0F1FA4"/><text class="lg" x="62.0" y="27.6" textLength="56.7" lengthAdjust="spacingAndGlyphs">Non-pre-trained</text>
<line class="gr" x1="37.2" y1="35" x2="37.2" y2="156"/>
<text class="tx" x="37.2" y="164.0" text-anchor="middle">0</text>
<line class="gr" x1="80.1" y1="35" x2="80.1" y2="156"/>
<text class="tx" x="80.1" y="164.0" text-anchor="middle">20</text>
<line class="gr" x1="123.0" y1="35" x2="123.0" y2="156"/>
<text class="tx" x="123.0" y="164.0" text-anchor="middle">40</text>
<line class="gr" x1="166.0" y1="35" x2="166.0" y2="156"/>
<text class="tx" x="166.0" y="164.0" text-anchor="middle">60</text>
<line class="gr" x1="208.9" y1="35" x2="208.9" y2="156"/>
<text class="tx" x="208.9" y="164.0" text-anchor="middle">80</text>
<line class="gr" x1="251.8" y1="35" x2="251.8" y2="156"/>
<text class="tx" x="251.8" y="164.0" text-anchor="middle">100</text>
<line class="gh" x1="32" y1="155.5" x2="253" y2="155.5"/>
<text class="tk" x="29.2" y="157.8" text-anchor="end">0.0</text>
<line class="gh" x1="32" y1="131.6" x2="253" y2="131.6"/>
<text class="tk" x="29.2" y="134.0" text-anchor="end">0.2</text>
<line class="gh" x1="32" y1="107.7" x2="253" y2="107.7"/>
<text class="tk" x="29.2" y="110.1" text-anchor="end">0.4</text>
<line class="gh" x1="32" y1="83.9" x2="253" y2="83.9"/>
<text class="tk" x="29.2" y="86.2" text-anchor="end">0.6</text>
<line class="gh" x1="32" y1="60.0" x2="253" y2="60.0"/>
<text class="tk" x="29.2" y="62.3" text-anchor="end">0.8</text>
<line class="gh" x1="32" y1="36.1" x2="253" y2="36.1"/>
<text class="tk" x="29.2" y="38.4" text-anchor="end">1.0</text>
</g>
<text class="ax" transform="translate(16.4,96.6) rotate(-90)" text-anchor="middle" textLength="9.5" lengthAdjust="spacingAndGlyphs">F1</text>
<text class="ax" x="144.2" y="177.8" text-anchor="middle" textLength="26.5" lengthAdjust="spacingAndGlyphs">epoch</text>
<text class="cap" x="132.3" y="208.7" text-anchor="middle" textLength="18" lengthAdjust="spacingAndGlyphs">(d)</text>
<g transform="translate(0,0.5)">
<g transform="scale(0.7,1)">
<polyline class="ln" stroke="#DA3448" points="56.21,59.74 59.27,58.43 62.34,69.53 65.41,52.82 68.47,45.29 71.54,49.95 74.60,44.82 77.67,46.73 80.73,49.59 83.80,44.82 86.87,44.82 89.93,45.53 93.00,44.34 96.06,43.86 99.13,44.82 102.19,42.31 105.26,46.25 108.33,42.67 111.39,43.38 114.46,41.95 117.52,42.31 120.59,42.31 123.65,42.31 126.72,42.91 129.79,41.95 132.85,42.31 135.92,42.67 138.98,42.91 142.05,42.31 145.11,41.59 148.18,42.67 151.25,42.31 154.31,41.59 157.38,41.74 160.44,42.08 163.51,41.69 166.57,41.89 169.64,41.95 172.71,41.70 175.77,42.04 178.84,41.80 181.90,41.73 184.97,41.95 188.03,41.63 191.10,41.84 194.17,41.60 197.23,41.48 200.30,41.47 203.36,41.70 206.43,41.42 209.49,41.39 212.56,41.64 215.63,41.53 218.69,41.13 221.76,41.36 224.82,41.47 227.89,41.42 230.95,41.56 234.02,41.58 237.09,41.54 240.15,41.27 243.22,41.37 246.28,41.40 249.35,40.98 252.41,41.49 255.48,41.21 258.55,41.20 261.61,41.13 264.68,41.05 267.74,40.97 270.81,41.17 273.87,40.99 276.94,41.22 280.01,41.13 283.07,41.17 286.14,41.05 289.20,41.08 292.27,41.06 295.33,40.75 298.40,40.79 301.47,40.98 304.53,40.72 307.60,41.02 310.66,40.53 313.73,41.10 316.79,40.86 319.86,40.84 322.93,41.05 325.99,40.73 329.06,40.91 332.12,40.68 335.19,41.03 338.25,40.86 341.32,40.65 344.39,40.71 347.45,40.91 350.52,41.03 353.58,41.00 356.65,40.92 359.71,40.71"/>
<g fill="#DA3448"><circle cx="56.21" cy="59.74" r="1.2"/><circle cx="59.27" cy="58.43" r="1.2"/><circle cx="62.34" cy="69.53" r="1.2"/><circle cx="65.41" cy="52.82" r="1.2"/><circle cx="68.47" cy="45.29" r="1.2"/><circle cx="71.54" cy="49.95" r="1.2"/><circle cx="74.60" cy="44.82" r="1.2"/><circle cx="77.67" cy="46.73" r="1.2"/><circle cx="80.73" cy="49.59" r="1.2"/><circle cx="83.80" cy="44.82" r="1.2"/><circle cx="86.87" cy="44.82" r="1.2"/><circle cx="89.93" cy="45.53" r="1.2"/><circle cx="93.00" cy="44.34" r="1.2"/><circle cx="96.06" cy="43.86" r="1.2"/><circle cx="99.13" cy="44.82" r="1.2"/><circle cx="102.19" cy="42.31" r="1.2"/><circle cx="105.26" cy="46.25" r="1.2"/><circle cx="108.33" cy="42.67" r="1.2"/><circle cx="111.39" cy="43.38" r="1.2"/><circle cx="114.46" cy="41.95" r="1.2"/><circle cx="117.52" cy="42.31" r="1.2"/><circle cx="120.59" cy="42.31" r="1.2"/><circle cx="123.65" cy="42.31" r="1.2"/><circle cx="126.72" cy="42.91" r="1.2"/><circle cx="129.79" cy="41.95" r="1.2"/><circle cx="132.85" cy="42.31" r="1.2"/><circle cx="135.92" cy="42.67" r="1.2"/><circle cx="138.98" cy="42.91" r="1.2"/><circle cx="142.05" cy="42.31" r="1.2"/><circle cx="145.11" cy="41.59" r="1.2"/><circle cx="148.18" cy="42.67" r="1.2"/><circle cx="151.25" cy="42.31" r="1.2"/><circle cx="154.31" cy="41.59" r="1.2"/><circle cx="157.38" cy="41.74" r="1.2"/><circle cx="160.44" cy="42.08" r="1.2"/><circle cx="163.51" cy="41.69" r="1.2"/><circle cx="166.57" cy="41.89" r="1.2"/><circle cx="169.64" cy="41.95" r="1.2"/><circle cx="172.71" cy="41.70" r="1.2"/><circle cx="175.77" cy="42.04" r="1.2"/><circle cx="178.84" cy="41.80" r="1.2"/><circle cx="181.90" cy="41.73" r="1.2"/><circle cx="184.97" cy="41.95" r="1.2"/><circle cx="188.03" cy="41.63" r="1.2"/><circle cx="191.10" cy="41.84" r="1.2"/><circle cx="194.17" cy="41.60" r="1.2"/><circle cx="197.23" cy="41.48" r="1.2"/><circle cx="200.30" cy="41.47" r="1.2"/><circle cx="203.36" cy="41.70" r="1.2"/><circle cx="206.43" cy="41.42" r="1.2"/><circle cx="209.49" cy="41.39" r="1.2"/><circle cx="212.56" cy="41.64" r="1.2"/><circle cx="215.63" cy="41.53" r="1.2"/><circle cx="218.69" cy="41.13" r="1.2"/><circle cx="221.76" cy="41.36" r="1.2"/><circle cx="224.82" cy="41.47" r="1.2"/><circle cx="227.89" cy="41.42" r="1.2"/><circle cx="230.95" cy="41.56" r="1.2"/><circle cx="234.02" cy="41.58" r="1.2"/><circle cx="237.09" cy="41.54" r="1.2"/><circle cx="240.15" cy="41.27" r="1.2"/><circle cx="243.22" cy="41.37" r="1.2"/><circle cx="246.28" cy="41.40" r="1.2"/><circle cx="249.35" cy="40.98" r="1.2"/><circle cx="252.41" cy="41.49" r="1.2"/><circle cx="255.48" cy="41.21" r="1.2"/><circle cx="258.55" cy="41.20" r="1.2"/><circle cx="261.61" cy="41.13" r="1.2"/><circle cx="264.68" cy="41.05" r="1.2"/><circle cx="267.74" cy="40.97" r="1.2"/><circle cx="270.81" cy="41.17" r="1.2"/><circle cx="273.87" cy="40.99" r="1.2"/><circle cx="276.94" cy="41.22" r="1.2"/><circle cx="280.01" cy="41.13" r="1.2"/><circle cx="283.07" cy="41.17" r="1.2"/><circle cx="286.14" cy="41.05" r="1.2"/><circle cx="289.20" cy="41.08" r="1.2"/><circle cx="292.27" cy="41.06" r="1.2"/><circle cx="295.33" cy="40.75" r="1.2"/><circle cx="298.40" cy="40.79" r="1.2"/><circle cx="301.47" cy="40.98" r="1.2"/><circle cx="304.53" cy="40.72" r="1.2"/><circle cx="307.60" cy="41.02" r="1.2"/><circle cx="310.66" cy="40.53" r="1.2"/><circle cx="313.73" cy="41.10" r="1.2"/><circle cx="316.79" cy="40.86" r="1.2"/><circle cx="319.86" cy="40.84" r="1.2"/><circle cx="322.93" cy="41.05" r="1.2"/><circle cx="325.99" cy="40.73" r="1.2"/><circle cx="329.06" cy="40.91" r="1.2"/><circle cx="332.12" cy="40.68" r="1.2"/><circle cx="335.19" cy="41.03" r="1.2"/><circle cx="338.25" cy="40.86" r="1.2"/><circle cx="341.32" cy="40.65" r="1.2"/><circle cx="344.39" cy="40.71" r="1.2"/><circle cx="347.45" cy="40.91" r="1.2"/><circle cx="350.52" cy="41.03" r="1.2"/><circle cx="353.58" cy="41.00" r="1.2"/><circle cx="356.65" cy="40.92" r="1.2"/><circle cx="359.71" cy="40.71" r="1.2"/></g>
<polyline class="ln" stroke="#0F1FA4" points="56.21,142.37 59.27,98.19 62.34,78.25 65.41,62.96 68.47,63.68 71.54,57.95 74.60,51.38 77.67,49.95 80.73,54.61 83.80,49.59 86.87,51.02 89.93,47.68 93.00,48.52 96.06,46.73 99.13,44.34 102.19,48.76 105.26,45.29 108.33,44.34 111.39,46.73 114.46,44.34 117.52,46.97 120.59,45.53 123.65,45.29 126.72,44.34 129.79,44.82 132.85,43.38 135.92,43.74 138.98,44.82 142.05,44.10 145.11,43.74 148.18,43.38 151.25,44.10 154.31,43.38 157.38,43.25 160.44,43.30 163.51,43.16 166.57,43.01 169.64,43.26 172.71,42.87 175.77,42.89 178.84,42.87 181.90,42.52 184.97,42.82 188.03,42.33 191.10,42.48 194.17,42.32 197.23,42.08 200.30,42.00 203.36,42.15 206.43,41.95 209.49,41.94 212.56,42.07 215.63,41.80 218.69,41.65 221.76,41.73 224.82,42.00 227.89,41.63 230.95,41.96 234.02,41.84 237.09,41.90 240.15,41.68 243.22,41.71 246.28,41.75 249.35,41.39 252.41,41.79 255.48,41.49 258.55,41.45 261.61,41.48 264.68,41.46 267.74,41.28 270.81,41.53 273.87,41.39 276.94,41.50 280.01,41.47 283.07,41.43 286.14,41.39 289.20,41.54 292.27,41.39 295.33,41.04 298.40,41.24 301.47,41.37 304.53,41.22 307.60,41.29 310.66,40.95 313.73,41.26 316.79,41.11 319.86,41.26 322.93,41.40 325.99,41.17 329.06,41.16 332.12,41.07 335.19,41.55 338.25,41.14 341.32,41.09 344.39,40.98 347.45,41.38 350.52,41.47 353.58,41.50 356.65,41.31 359.71,41.21"/>
<g fill="#0F1FA4"><circle cx="56.21" cy="142.37" r="1.2"/><circle cx="59.27" cy="98.19" r="1.2"/><circle cx="62.34" cy="78.25" r="1.2"/><circle cx="65.41" cy="62.96" r="1.2"/><circle cx="68.47" cy="63.68" r="1.2"/><circle cx="71.54" cy="57.95" r="1.2"/><circle cx="74.60" cy="51.38" r="1.2"/><circle cx="77.67" cy="49.95" r="1.2"/><circle cx="80.73" cy="54.61" r="1.2"/><circle cx="83.80" cy="49.59" r="1.2"/><circle cx="86.87" cy="51.02" r="1.2"/><circle cx="89.93" cy="47.68" r="1.2"/><circle cx="93.00" cy="48.52" r="1.2"/><circle cx="96.06" cy="46.73" r="1.2"/><circle cx="99.13" cy="44.34" r="1.2"/><circle cx="102.19" cy="48.76" r="1.2"/><circle cx="105.26" cy="45.29" r="1.2"/><circle cx="108.33" cy="44.34" r="1.2"/><circle cx="111.39" cy="46.73" r="1.2"/><circle cx="114.46" cy="44.34" r="1.2"/><circle cx="117.52" cy="46.97" r="1.2"/><circle cx="120.59" cy="45.53" r="1.2"/><circle cx="123.65" cy="45.29" r="1.2"/><circle cx="126.72" cy="44.34" r="1.2"/><circle cx="129.79" cy="44.82" r="1.2"/><circle cx="132.85" cy="43.38" r="1.2"/><circle cx="135.92" cy="43.74" r="1.2"/><circle cx="138.98" cy="44.82" r="1.2"/><circle cx="142.05" cy="44.10" r="1.2"/><circle cx="145.11" cy="43.74" r="1.2"/><circle cx="148.18" cy="43.38" r="1.2"/><circle cx="151.25" cy="44.10" r="1.2"/><circle cx="154.31" cy="43.38" r="1.2"/><circle cx="157.38" cy="43.25" r="1.2"/><circle cx="160.44" cy="43.30" r="1.2"/><circle cx="163.51" cy="43.16" r="1.2"/><circle cx="166.57" cy="43.01" r="1.2"/><circle cx="169.64" cy="43.26" r="1.2"/><circle cx="172.71" cy="42.87" r="1.2"/><circle cx="175.77" cy="42.89" r="1.2"/><circle cx="178.84" cy="42.87" r="1.2"/><circle cx="181.90" cy="42.52" r="1.2"/><circle cx="184.97" cy="42.82" r="1.2"/><circle cx="188.03" cy="42.33" r="1.2"/><circle cx="191.10" cy="42.48" r="1.2"/><circle cx="194.17" cy="42.32" r="1.2"/><circle cx="197.23" cy="42.08" r="1.2"/><circle cx="200.30" cy="42.00" r="1.2"/><circle cx="203.36" cy="42.15" r="1.2"/><circle cx="206.43" cy="41.95" r="1.2"/><circle cx="209.49" cy="41.94" r="1.2"/><circle cx="212.56" cy="42.07" r="1.2"/><circle cx="215.63" cy="41.80" r="1.2"/><circle cx="218.69" cy="41.65" r="1.2"/><circle cx="221.76" cy="41.73" r="1.2"/><circle cx="224.82" cy="42.00" r="1.2"/><circle cx="227.89" cy="41.63" r="1.2"/><circle cx="230.95" cy="41.96" r="1.2"/><circle cx="234.02" cy="41.84" r="1.2"/><circle cx="237.09" cy="41.90" r="1.2"/><circle cx="240.15" cy="41.68" r="1.2"/><circle cx="243.22" cy="41.71" r="1.2"/><circle cx="246.28" cy="41.75" r="1.2"/><circle cx="249.35" cy="41.39" r="1.2"/><circle cx="252.41" cy="41.79" r="1.2"/><circle cx="255.48" cy="41.49" r="1.2"/><circle cx="258.55" cy="41.45" r="1.2"/><circle cx="261.61" cy="41.48" r="1.2"/><circle cx="264.68" cy="41.46" r="1.2"/><circle cx="267.74" cy="41.28" r="1.2"/><circle cx="270.81" cy="41.53" r="1.2"/><circle cx="273.87" cy="41.39" r="1.2"/><circle cx="276.94" cy="41.50" r="1.2"/><circle cx="280.01" cy="41.47" r="1.2"/><circle cx="283.07" cy="41.43" r="1.2"/><circle cx="286.14" cy="41.39" r="1.2"/><circle cx="289.20" cy="41.54" r="1.2"/><circle cx="292.27" cy="41.39" r="1.2"/><circle cx="295.33" cy="41.04" r="1.2"/><circle cx="298.40" cy="41.24" r="1.2"/><circle cx="301.47" cy="41.37" r="1.2"/><circle cx="304.53" cy="41.22" r="1.2"/><circle cx="307.60" cy="41.29" r="1.2"/><circle cx="310.66" cy="40.95" r="1.2"/><circle cx="313.73" cy="41.26" r="1.2"/><circle cx="316.79" cy="41.11" r="1.2"/><circle cx="319.86" cy="41.26" r="1.2"/><circle cx="322.93" cy="41.40" r="1.2"/><circle cx="325.99" cy="41.17" r="1.2"/><circle cx="329.06" cy="41.16" r="1.2"/><circle cx="332.12" cy="41.07" r="1.2"/><circle cx="335.19" cy="41.55" r="1.2"/><circle cx="338.25" cy="41.14" r="1.2"/><circle cx="341.32" cy="41.09" r="1.2"/><circle cx="344.39" cy="40.98" r="1.2"/><circle cx="347.45" cy="41.38" r="1.2"/><circle cx="350.52" cy="41.47" r="1.2"/><circle cx="353.58" cy="41.50" r="1.2"/><circle cx="356.65" cy="41.31" r="1.2"/><circle cx="359.71" cy="41.21" r="1.2"/></g>
</g>
</g>
</g>
</svg></body></html>
